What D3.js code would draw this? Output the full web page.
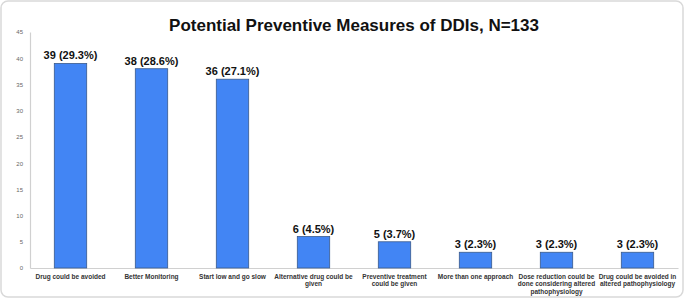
<!DOCTYPE html>
<html>
<head>
<meta charset="utf-8">
<script src="https://cdn.jsdelivr.net/npm/d3@7"></script>
<style>
  body { margin: 0; background: #fff; }
  svg { display: block; font-family: "Liberation Sans", Arial, sans-serif; }
</style>
</head>
<body>
<div id="chart"></div>
<script>
const categories = [
  "Drug could be avoided",
  "Better Monitoring",
  "Start low and go slow",
  "Alternative drug could be given",
  "Preventive treatment could be given",
  "More than one approach",
  "Dose reduction could be done considering altered pathophysiology",
  "Drug could be avoided in altered pathophysiology"
]
// label lines as wrapped in the picture
const categoryLines = [
  ["Drug could be avoided"],
  ["Better Monitoring"],
  ["Start low and go slow"],
  ["Alternative drug could be", "given"],
  ["Preventive treatment", "could be given"],
  ["More than one approach"],
  ["Dose reduction could be", "done considering altered", "pathophysiology"],
  ["Drug could be avoided in", "altered pathophysiology"]
]
const counts = [39, 38, 36, 6, 5, 3, 3, 3]
const percents = ["29.3%", "28.6%", "27.1%", "4.5%", "3.7%", "2.3%", "2.3%", "2.3%"]
const yTicks = [0, 5, 10, 15, 20, 25, 30, 35, 40, 45]
const title = "Potential Preventive Measures of DDIs, N=133"

drawChart("#chart")

function drawChart(id){
  const canvas = {width: 685, height: 299, margin: {top: 32, right: 7, bottom: 31, left: 30}}
  const svg = d3.select(id).append("svg").attr("width", canvas.width).attr("height", canvas.height)

  svg.append("rect").attr("x", 1).attr("y", 1).attr("width", canvas.width - 3).attr("height", canvas.height - 3)
    .attr("rx", 7).attr("fill", "#fff").attr("stroke", "#d9d9d9").attr("stroke-width", 1.5)

  const x = d3.scaleBand().domain(categories)
    .range([canvas.margin.left, canvas.width - canvas.margin.right])
    .paddingInner(0.6).paddingOuter(0.3)
  const y = d3.scaleLinear().domain([0, 45])
    .range([canvas.height - canvas.margin.bottom, canvas.margin.top])

  // y axis
  const ya = svg.append("g").attr("transform", `translate(${canvas.margin.left},0)`)
    .call(d3.axisLeft(y).tickValues(yTicks).tickSize(0).tickPadding(7))
  ya.select(".domain").attr("stroke", "#d0d0d0").attr("stroke-width", 1.2)
  ya.selectAll("text").attr("fill", "#666").attr("font-size", "6px")

  // x axis
  const xa = svg.append("g").attr("transform", `translate(0,${y(0)})`)
    .call(d3.axisBottom(x).tickSize(0).tickFormat(""))
  xa.select(".domain").attr("stroke", "#d0d0d0").attr("stroke-width", 1.2)

  svg.selectAll("rect.bar").data(counts).enter().append("rect").attr("class", "bar")
    .attr("x", (d, i) => x(categories[i]))
    .attr("y", d => y(d))
    .attr("width", x.bandwidth())
    .attr("height", d => y(0) - y(d))
    .attr("fill", "#4285f4").attr("stroke", "#3a5a8c").attr("stroke-width", 0.8)

  svg.selectAll("text.val").data(counts).enter().append("text").attr("class", "val")
    .attr("x", (d, i) => x(categories[i]) + x.bandwidth() / 2)
    .attr("y", d => y(d) - 4)
    .attr("text-anchor", "middle").attr("font-size", "11px").attr("font-weight", "bold").attr("fill", "#111")
    .text((d, i) => `${d} (${percents[i]})`)

  categoryLines.forEach((lines, i) => {
    const t = svg.append("text").attr("text-anchor", "middle")
      .attr("font-size", "6.5px").attr("font-weight", "bold").attr("fill", "#333")
    lines.forEach((ln, j) => {
      t.append("tspan").attr("x", x(categories[i]) + x.bandwidth() / 2).attr("y", y(0) + 11 + j * 7.3).text(ln)
    })
  })

  svg.append("text").attr("x", 354).attr("y", 31)
    .attr("text-anchor", "middle").attr("font-size", "17px").attr("font-weight", "bold").attr("fill", "#111")
    .text(title)
}
</script>
</body>
</html>
